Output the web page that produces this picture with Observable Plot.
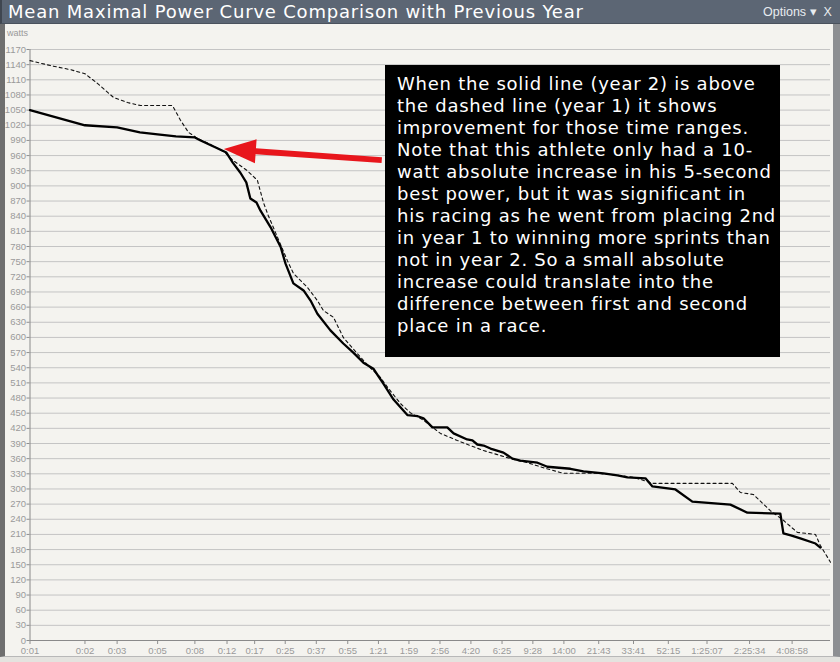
<!DOCTYPE html>
<html>
<head>
<meta charset="utf-8">
<script src="https://cdn.jsdelivr.net/npm/d3@7"></script>
<script src="https://cdn.jsdelivr.net/npm/@observablehq/plot@0.6"></script>
<style>
  html, body { margin: 0; padding: 0; }
  body { width: 840px; height: 662px; position: relative; overflow: hidden; background: #e4e3df; font-family: "Open Sans", sans-serif; }
  #titlebar { position: absolute; left: 0; top: 0; width: 840px; height: 24px; background: #5c6674; border-bottom: 1px solid #4a525d; border-left: 2px solid #3f4650; box-sizing: border-box; }
  #title { position: absolute; left: 6px; top: 0px; color: #fff; font-family: "DejaVu Sans", sans-serif; font-size: 18px; letter-spacing: 0.8px; line-height: 24px; white-space: nowrap; }
  #options { position: absolute; left: 761px; top: 4px; color: #e8ecf0; font-family: "Liberation Sans Narrow", "Liberation Sans", sans-serif; font-size: 12.5px; white-space: nowrap; }
  #panel { position: absolute; left: 0; top: 24px; width: 840px; height: 633px; background: #f4f3ef; border-left: 5px solid #6f6f6f; border-right: 7px solid #8d8f92; border-bottom: 1px solid #b8b8b8; box-sizing: border-box; }
  #chart { position: absolute; left: 0; top: 24px; }
  #watts { position: absolute; left: 7px; top: 28px; color: #999; font-family: "Liberation Sans Narrow", "Liberation Sans", sans-serif; font-size: 9px; }
  #note { position: absolute; left: 385px; top: 65px; width: 395px; height: 292px; background: #000; color: #fff; box-sizing: border-box; padding: 8px 0 0 12px; font-family: "DejaVu Sans", sans-serif; font-size: 18px; line-height: 22px; letter-spacing: 0.75px; }
  #note div { white-space: nowrap; }
</style>
</head>
<body>
<div id="titlebar"><div id="title">Mean Maximal Power Curve Comparison with Previous Year</div><div id="options">Options ▾ &nbsp;X</div></div>
<div id="panel"></div>
<div id="watts">watts</div>
<div id="chart"></div>
<div id="note"></div>
<script>
// ---- data (seconds of duration, watts) ----
const year2Seconds = [1, 2, 3, 4, 5, 6.3, 8, 8.6, 10.4, 11.9, 12.9, 14.2, 15.3, 16.1, 17.4, 18.3, 20.8, 23.6, 25.1, 27.7, 31.5, 34.4, 37.5, 44.2, 52, 59, 67, 76, 86, 98, 117, 133, 143, 160, 193, 209, 248, 265, 282, 305, 333, 392, 439, 485, 602, 682, 912, 1075, 1383, 1650, 1872, 2350, 2566, 3430, 4245, 6860, 8500, 12880, 13380, 14700, 16570, 20060, 21340];
const year2Watts   = [1050, 1020, 1016, 1006, 1002, 998, 996, 990, 976, 966, 946, 926, 907, 875, 867, 851, 818, 779, 746, 707, 693, 673, 647, 614, 588, 570, 550, 538, 509, 477, 446, 444, 440, 422, 422, 410, 398, 396, 388, 386, 380, 372, 360, 356, 352, 344, 340, 335, 331, 327, 323, 321, 305, 299, 275, 269, 253, 251, 212, 208, 202, 192, 184];

const year1Seconds = [1, 1.3, 1.67, 2, 2.34, 2.87, 3.42, 4.03, 6.03, 6.67, 7.38, 8.27, 9.74, 11.5, 13, 15.5, 17.6, 19, 20.2, 22.7, 25.7, 27.7, 33.1, 37.5, 40.5, 45.9, 52, 62, 73, 83, 91, 107, 121, 143, 177, 219, 258, 305, 363, 428, 530, 649, 834, 1283, 1650, 2019, 2600, 7035, 7780, 9170, 11350, 13380, 15960, 20060, 21340, 24240];
const year1Watts   = [1148, 1138, 1130, 1122, 1103, 1075, 1065, 1059, 1059, 1030, 1006, 994, 982, 968, 950, 930, 911, 867, 841, 798, 752, 727, 699, 673, 653, 640, 600, 568, 540, 521, 501, 469, 451, 436, 410, 396, 386, 376, 368, 360, 352, 342, 331, 331, 327, 323, 311, 311, 293, 289, 257, 238, 214, 210, 188, 155];

const xTickSeconds = [1, 2, 3, 5, 8, 12, 17, 25, 37, 55, 81, 119, 176, 260, 385, 568, 840, 1303, 2021, 3135, 5107, 8734, 14938];
const xTickLabels  = ["0:01", "0:02", "0:03", "0:05", "0:08", "0:12", "0:17", "0:25", "0:37", "0:55", "1:21", "1:59", "2:56", "4:20", "6:25", "9:28", "14:00", "21:43", "33:41", "52:15", "1:25:07", "2:25:34", "4:08:58"];
const yTicks = d3.range(0, 1171, 30);

const noteLines = [
  "When the solid line (year 2) is above",
  "the dashed line (year 1) it shows",
  "improvement for those time ranges.",
  "Note that this athlete only had a 10-",
  "watt absolute increase in his 5-second",
  "best power, but it was significant in",
  "his racing as he went from placing 2nd",
  "in year 1 to winning more sprints than",
  "not in year 2. So a small absolute",
  "increase could translate into the",
  "difference between first and second",
  "place in a race."
];
// arrow annotation: from (seconds, watts) to (seconds, watts)
const arrowFrom = [85, 950];
const arrowTo = [11.6, 972];

const year2 = year2Seconds.map((s, i) => ({s, w: year2Watts[i]}));
const year1 = year1Seconds.map((s, i) => ({s, w: year1Watts[i]}));

const plot = Plot.plot({
  width: 840,
  height: 640,
  marginLeft: 29.5,
  marginRight: 10,
  marginTop: 25,
  marginBottom: 24,
  style: {background: "transparent", color: "#8e8e8e", fontFamily: "'Liberation Sans Narrow', 'Liberation Sans', sans-serif", fontSize: "9.5px", overflow: "visible"},
  x: {type: "log", domain: [1, 24240]},
  y: {domain: [0, 1170]},
  marks: [
    Plot.gridY(yTicks, {stroke: "#c4c4c4", strokeOpacity: 1}),
    Plot.axisY(yTicks, {tickSize: 3, tickPadding: 1, label: null, tickFormat: d => String(d), stroke: "#8e8e8e", fill: "#9a9a9a"}),
    Plot.axisX(xTickSeconds, {tickSize: 4, tickPadding: 2, label: null, tickFormat: () => "", stroke: "#8e8e8e"}),
    Plot.text(xTickSeconds, {x: d => d, y: () => 0, text: (d, i) => xTickLabels[i], dy: 10, lineAnchor: "middle", fill: "#9a9a9a"}),
    Plot.ruleX([1], {stroke: "#8a8a8a"}),
    Plot.ruleY([0], {stroke: "#8a8a8a"}),
    Plot.line(year1, {x: "s", y: "w", stroke: "#111", strokeWidth: 1.1, strokeDasharray: "3,3"}),
    Plot.line(year2, {x: "s", y: "w", stroke: "#000", strokeWidth: 2.3, strokeLinejoin: "round"})
  ]
});
document.getElementById("chart").appendChild(plot);

// draw a filled arrow using the plot's scales
const sx = plot.scale("x"), sy = plot.scale("y");
const x0 = sx.apply(arrowFrom[0]), y0 = sy.apply(arrowFrom[1]);
const x1 = sx.apply(arrowTo[0]), y1 = sy.apply(arrowTo[1]);
const len = Math.hypot(x1 - x0, y1 - y0);
const ux = (x1 - x0) / len, uy = (y1 - y0) / len;
const nx = -uy, ny = ux;
const headL = 32, headW = 12, shaftW = 3;
const bx = x1 - ux * headL, by = y1 - uy * headL;
const pts = [
  [x0 + nx * shaftW, y0 + ny * shaftW],
  [bx + nx * shaftW, by + ny * shaftW],
  [bx + nx * headW, by + ny * headW],
  [x1, y1],
  [bx - nx * headW, by - ny * headW],
  [bx - nx * shaftW, by - ny * shaftW],
  [x0 - nx * shaftW, y0 - ny * shaftW]
];
d3.select(plot).append("polygon")
  .attr("points", pts.map(p => p.join(",")).join(" "))
  .attr("fill", "#e8161c");

const note = document.getElementById("note");
noteLines.forEach(t => { const d = document.createElement("div"); d.textContent = t; note.appendChild(d); });
</script>
</body>
</html>
